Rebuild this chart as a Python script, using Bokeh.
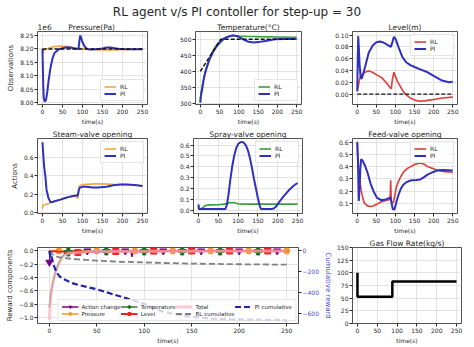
import numpy as np
from bokeh.plotting import figure
from bokeh.layouts import column, row
from bokeh.models import Range1d, LinearAxis, FixedTicker, CustomJSTickFormatter, Div
from bokeh.embed import file_html
from bokeh.resources import INLINE

# ---------------- data ----------------
title_text = "RL agent v/s PI contoller for step-up = 30"
pressure_offset_text = "1e6"
time_ticks = [0, 50, 100, 150, 200, 250]

# Pressure (Pa)
p_set_t = [0, 250]
p_set = [8.2e6, 8.2e6]
p_rl_t = [0, 1, 3, 10, 20, 30, 45, 60, 75, 88, 92, 100, 110, 130, 150, 170, 200, 225, 250]
p_rl = [8.200e6, 8.185e6, 8.195e6, 8.200e6, 8.205e6, 8.209e6, 8.211e6, 8.209e6, 8.205e6, 8.202e6,
        8.203e6, 8.201e6, 8.199e6, 8.197e6, 8.196e6, 8.196e6, 8.197e6, 8.198e6, 8.199e6]
p_pi_t = [0, 1, 2, 3, 5, 7, 9, 12, 15, 20, 25, 30, 40, 50, 60, 70, 80, 88, 90, 92, 94, 97, 100,
          105, 110, 115, 120, 130, 140, 150, 160, 170, 180, 190, 200, 225, 250]
p_pi = [8.200e6, 8.120e6, 8.060e6, 8.020e6, 8.006e6, 8.005e6, 8.012e6, 8.040e6, 8.080e6, 8.130e6,
        8.165e6, 8.185e6, 8.198e6, 8.203e6, 8.206e6, 8.205e6, 8.202e6, 8.200e6, 8.201e6, 8.225e6,
        8.250e6, 8.240e6, 8.225e6, 8.210e6, 8.202e6, 8.199e6, 8.198e6, 8.199e6, 8.200e6, 8.202e6,
        8.205e6, 8.205e6, 8.203e6, 8.201e6, 8.200e6, 8.199e6, 8.199e6]

# Temperature (°C)
T_set_t = [0, 53, 250]
T_set = [400, 500, 500]
T_rl_t = [0, 2, 5, 10, 15, 20, 30, 40, 50, 60, 70, 80, 90, 100, 120, 150, 200, 250]
T_rl = [305, 335, 355, 385, 408, 428, 458, 478, 493, 502, 507, 510, 511, 510, 509, 508, 507, 506]
T_pi_t = [0, 1, 3, 5, 7, 10, 15, 20, 25, 30, 37, 45, 53, 60, 70, 80, 86, 95, 105, 115, 125,
          139, 150, 165, 180, 193, 220, 250]
T_pi = [303, 320, 333, 345, 362, 383, 405, 424, 440, 453, 468, 482, 492, 500, 507, 511, 512, 510,
        504, 497, 492, 490, 491, 494, 497, 500, 501, 501]

# Level (m)
L_set_t = [0, 250]
L_set = [0.0, 0.0]
L_rl_t = [0, 3, 6, 10, 15, 20, 30, 40, 50, 64, 75, 85, 89, 92, 96, 100, 105, 110, 118, 126,
          140, 155, 165, 180, 200, 222, 250]
L_rl = [0.005, 0.015, 0.025, 0.031, 0.035, 0.037, 0.039, 0.037, 0.033, 0.028, 0.020, 0.012, 0.009,
        0.025, 0.037, 0.030, 0.022, 0.016, 0.007, 0.0, -0.007, -0.011, -0.012, -0.011, -0.009,
        -0.0065, -0.005]
L_pi_t = [0, 1, 2.5, 4, 6, 9, 11, 15, 20, 30, 40, 50, 60, 70, 80, 88, 92, 96, 100, 105, 110,
          118, 128, 139, 150, 165, 181, 200, 222, 240, 250]
L_pi = [0.005, 0.050, 0.098, 0.080, 0.050, 0.028, 0.026, 0.033, 0.045, 0.070, 0.082, 0.088, 0.089,
        0.087, 0.083, 0.080, 0.088, 0.097, 0.094, 0.085, 0.076, 0.063, 0.054, 0.049, 0.046, 0.042,
        0.038, 0.031, 0.023, 0.020, 0.021]

# Steam-valve opening
S_rl_t = [0, 1, 5, 10, 20, 30, 50, 70, 85, 87, 89, 91, 95, 100, 110, 130, 150, 175, 195, 210, 230, 250]
S_rl = [0.04, 0.08, 0.085, 0.09, 0.105, 0.12, 0.15, 0.175, 0.19, 0.15, 0.17, 0.28, 0.295, 0.30,
        0.305, 0.31, 0.31, 0.305, 0.302, 0.303, 0.297, 0.288]
S_pi_t = [0, 2, 4, 7, 10, 15, 20, 25, 32, 45, 55, 65, 77, 88, 89, 91, 94, 100, 110, 125, 140,
          160, 177, 195, 210, 230, 250]
S_pi = [0.76, 0.62, 0.50, 0.40, 0.25, 0.155, 0.115, 0.115, 0.125, 0.14, 0.155, 0.167, 0.178, 0.185,
        0.20, 0.25, 0.27, 0.28, 0.28, 0.272, 0.27, 0.28, 0.295, 0.302, 0.303, 0.297, 0.288]

# Spray-valve opening
Sp_rl_t = [0, 2, 5, 10, 15, 20, 30, 50, 65, 75, 80, 85, 90, 95, 100, 110, 150, 200, 250]
Sp_rl = [0.05, 0.01, 0.01, 0.02, 0.035, 0.045, 0.048, 0.05, 0.055, 0.065, 0.07, 0.066, 0.07,
         0.062, 0.058, 0.055, 0.055, 0.055, 0.055]
Sp_pi_t = [0, 1, 3, 10, 30, 50, 68, 72, 76, 80, 85, 90, 95, 100, 105, 110, 115, 120, 125, 130,
           135, 140, 145, 150, 155, 158, 170, 185, 190, 195, 200, 205, 210, 220, 230, 240, 250]
Sp_pi = [0.05, 0.01, 0.01, 0.01, 0.01, 0.01, 0.01, 0.05, 0.15, 0.27, 0.40, 0.50, 0.57, 0.61, 0.625,
         0.63, 0.62, 0.595, 0.55, 0.48, 0.39, 0.29, 0.20, 0.11, 0.035, 0.01, 0.01, 0.01, 0.015,
         0.03, 0.055, 0.08, 0.105, 0.15, 0.19, 0.225, 0.25]

# Feed-valve opening
F_rl_t = [0, 1, 3, 6, 10, 14, 18, 27, 35, 43, 52, 60, 70, 80, 86, 87.5, 89, 92, 95, 98, 102,
          108, 114, 122, 131, 142, 152, 164, 175, 185, 198, 210, 230, 250]
F_rl = [0.60, 0.50, 0.42, 0.30, 0.21, 0.15, 0.105, 0.08, 0.075, 0.082, 0.095, 0.11, 0.12, 0.128,
        0.135, 0.29, 0.12, 0.10, 0.115, 0.16, 0.23, 0.28, 0.32, 0.36, 0.385, 0.405, 0.42, 0.43,
        0.42, 0.40, 0.385, 0.37, 0.36, 0.355]
F_pi_t = [0, 2, 4, 6, 8, 10, 14, 20, 27, 35, 43, 52, 64, 77, 87, 90, 93, 97, 100, 103, 108, 114,
          120, 127, 135, 143, 155, 165, 175, 185, 198, 210, 225, 250]
F_pi = [0.60, 0.42, 0.12, 0.22, 0.38, 0.46, 0.45, 0.41, 0.35, 0.26, 0.196, 0.145, 0.126, 0.135,
        0.15, 0.10, 0.055, 0.05, 0.08, 0.12, 0.17, 0.22, 0.25, 0.27, 0.283, 0.29, 0.292, 0.296,
        0.315, 0.337, 0.355, 0.37, 0.372, 0.368]

# Reward components
act_t = [0, 1, 2, 3, 5, 10, 86, 87, 88, 89, 250]
act_v = [-0.17, -0.05, -0.02, -0.01, -0.005, 0.0, 0.0, -0.09, -0.02, 0.0, 0.0]
act_mk_t = [0, 40, 80, 120, 160, 200, 240]
act_mk_v = [-0.17, 0.0, 0.0, 0.0, 0.0, 0.0, 0.0]
pres_t = [0, 2, 5, 10, 250]
pres_v = [-0.02, -0.01, -0.005, 0.0, 0.0]
pres_mk_t = [10, 50, 90, 130, 170, 210, 250]
pres_mk_v = [0.0, 0.0, 0.0, 0.0, 0.0, 0.0, 0.0]
temp_t = [0, 1, 2, 4, 6, 8, 10, 13, 16, 20, 25, 30, 250]
temp_v = [-0.85, -0.72, -0.60, -0.45, -0.34, -0.25, -0.18, -0.10, -0.05, -0.02, -0.01, -0.005, 0.0]
temp_mk_t = [20, 60, 100, 140, 180, 220]
temp_mk_v = [-0.015, 0.0, 0.0, 0.0, 0.0, 0.0]
lvl_t = [0, 5, 10, 20, 30, 40, 50, 60, 70, 80, 90, 95, 100, 110, 120, 250]
lvl_v = [0.0, -0.005, -0.01, -0.015, -0.022, -0.018, -0.015, -0.01, -0.008, -0.005, -0.002,
         -0.01, -0.005, -0.002, 0.0, 0.0]
lvl_mk_t = [30, 70, 110, 150, 190, 230]
lvl_mk_v = [-0.022, -0.008, -0.002, 0.0, 0.0, 0.0]
tot_t = [0, 1, 2, 4, 6, 8, 10, 13, 16, 20, 25, 30, 40, 250]
tot_v = [-1.04, -0.77, -0.62, -0.46, -0.35, -0.26, -0.19, -0.11, -0.065, -0.035, -0.03, -0.025,
         -0.01, 0.0]
rlcum_t = [0, 2, 5, 10, 20, 30, 50, 75, 100, 125, 150, 175, 200, 225, 250]
rlcum_v = [0, -25, -45, -60, -72, -80, -93, -103, -110, -116, -121, -124, -127, -129, -131]
picum_t = [0, 1, 2, 4, 6, 8, 11, 15, 20, 25, 32, 40, 49, 58, 66, 75, 83, 92, 100, 110, 118, 130,
           142, 155, 173, 190, 210, 230, 250]
picum_v = [0, -60, -45, -120, -170, -210, -245, -268, -290, -310, -327, -345, -364, -388, -411,
           -435, -458, -483, -505, -545, -575, -600, -617, -633, -648, -653, -656, -658, -660]

# Gas flow rate (kg/s)
gas_t = [0, 0, 88, 88, 250]
gas_v = [100, 53, 53, 83, 83]

# ---------------- styling ----------------
FONT = "DejaVu Sans"
TXT = "#262626"
PI_C = "#3030c0"
SET_C = "#111111"


def minus_fmt(dec):
    return CustomJSTickFormatter(code=(
        "var s = Math.abs(tick).toFixed(%d); return (tick < -1e-9 ? '\\u2212' : '') + s;" % dec))


def style_axis(ax):
    ax.axis_line_color = None
    ax.major_tick_line_color = TXT
    ax.major_tick_in = 0
    ax.major_tick_out = 3
    ax.minor_tick_line_color = None
    ax.major_label_text_font = FONT
    ax.major_label_text_font_size = "6px"
    ax.major_label_text_color = TXT
    ax.major_label_standoff = 1
    ax.axis_label_text_font = FONT
    ax.axis_label_text_font_style = "normal"
    ax.axis_label_text_color = TXT
    ax.axis_label_standoff = 2


def make_fig(w, h, l, r, t, b, xr, yr, title, yticks, ydec, ylabel=None):
    p = figure(width=w, height=h, min_border_left=l, min_border_right=r,
               min_border_top=t, min_border_bottom=b,
               x_range=Range1d(*xr), y_range=Range1d(*yr),
               toolbar_location=None, output_backend="svg", title=title)
    p.title.text_font = FONT
    p.title.text_font_size = "7.5px"
    p.title.text_font_style = "normal"
    p.title.text_color = TXT
    p.title.align = "center"
    p.title.standoff = 0
    p.outline_line_color = TXT
    p.outline_line_width = 0.8
    p.background_fill_color = "white"
    p.border_fill_color = "white"
    for ax in p.axis:
        style_axis(ax)
    p.xaxis.ticker = FixedTicker(ticks=time_ticks)
    p.xaxis.axis_label = "time(s)"
    p.xaxis.axis_label_text_font_size = "6px"
    p.xaxis.axis_label_standoff = 1
    p.yaxis.ticker = FixedTicker(ticks=yticks)
    if ydec is not None:
        p.yaxis.formatter = minus_fmt(ydec)
    if ylabel:
        p.yaxis.axis_label = ylabel
        p.yaxis.axis_label_text_font_size = "7px"
    p.grid.grid_line_color = "#dcdcdc"
    p.grid.grid_line_width = 0.8
    return p


def style_legend(p, loc):
    lg = p.legend[0]
    lg.location = loc
    lg.label_text_font = FONT
    lg.label_text_font_size = "6px"
    lg.label_text_color = TXT
    lg.glyph_width = 12
    lg.glyph_height = 7
    lg.label_height = 7
    lg.label_standoff = 4
    lg.spacing = 0
    lg.padding = 3
    lg.margin = 3
    lg.border_line_color = "#cccccc"
    lg.border_line_width = 0.8
    lg.background_fill_alpha = 0.8
    return lg


XR = (-12.5, 262.5)

# ---------------- title ----------------
tf = Div(text=('<div style="width:474px;text-align:center;font-family:\'DejaVu Sans\';'
               'font-size:12px;line-height:14px;color:#262626;padding-top:5px;white-space:nowrap;">'
               + title_text + '</div>'),
         width=474, height=20, margin=0)

# ---------------- row 1 ----------------
# the axis offset text "1e6" sits at the top-left of the frame, the title is centred
p1 = make_fig(158, 107, 37, 11, 8, 20, XR, (7.993e6, 8.265e6),
              pressure_offset_text + "\u00a0" * 7 + "Pressure(Pa)",
              [8.0e6, 8.05e6, 8.1e6, 8.15e6, 8.2e6, 8.25e6], None, "Observations")
p1.title.align = "left"
p1.yaxis.formatter = CustomJSTickFormatter(code="return (tick/1e6).toFixed(2);")
p1.line(p_rl_t, p_rl, color="#f7a540", line_width=1.6, legend_label="RL")
p1.line(p_pi_t, p_pi, color=PI_C, line_width=2, legend_label="PI")
p1.line(p_set_t, p_set, color=SET_C, line_width=1.4, line_dash="4 2")
style_legend(p1, "bottom_right")

p2 = make_fig(158, 107, 37, 15, 8, 20, XR, (297, 524), "Temperature(°C)",
              [300, 350, 400, 450, 500], 0)
p2.line(T_rl_t, T_rl, color="#3d9a3d", line_width=1.6, legend_label="RL")
p2.line(T_pi_t, T_pi, color=PI_C, line_width=2, legend_label="PI")
p2.line(T_set_t, T_set, color=SET_C, line_width=1.4, line_dash="4 2")
style_legend(p2, "bottom_right")

p3 = make_fig(158, 107, 36, 17, 8, 20, XR, (-0.0175, 0.106), "Level(m)",
              [0.0, 0.02, 0.04, 0.06, 0.08, 0.10], 2)
p3.line(L_rl_t, L_rl, color="#e03a3a", line_width=1.6, legend_label="RL")
p3.line(L_pi_t, L_pi, color=PI_C, line_width=2, legend_label="PI")
p3.line(L_set_t, L_set, color=SET_C, line_width=1.4, line_dash="4 2")
style_legend(p3, "top_right")

# ---------------- row 2 ----------------
p4 = make_fig(158, 109, 37, 11, 10, 19, XR, (-0.01, 0.80), "Steam-valve opening",
              [0.0, 0.2, 0.4, 0.6], 1, "Actions")
p4.line(S_rl_t, S_rl, color="#f7a540", line_width=1.6, legend_label="RL")
p4.line(S_pi_t, S_pi, color=PI_C, line_width=2, legend_label="PI")
style_legend(p4, "top_right")

p5 = make_fig(158, 109, 35, 14, 10, 19, XR, (-0.0315, 0.6615), "Spray-valve opening",
              [0.0, 0.1, 0.2, 0.3, 0.4, 0.5, 0.6], 1)
p5.line(Sp_rl_t, Sp_rl, color="#3d9a3d", line_width=1.6, legend_label="RL")
p5.line(Sp_pi_t, Sp_pi, color=PI_C, line_width=2, legend_label="PI")
style_legend(p5, "top_right")

p6 = make_fig(158, 109, 36, 17, 10, 19, XR, (0.018, 0.63), "Feed-valve opening",
              [0.1, 0.2, 0.3, 0.4, 0.5, 0.6], 1)
p6.line(F_rl_t, F_rl, color="#e03a3a", line_width=1.6, legend_label="RL")
p6.line(F_pi_t, F_pi, color=PI_C, line_width=2, legend_label="PI")
style_legend(p6, "top_right")

# ---------------- row 3 ----------------
p7 = make_fig(334, 111, 37, 30, 10, 24, XR, (-1.092, 0.052), "",
              [0.0, -0.2, -0.4, -0.6, -0.8, -1.0], 1, "Reward components")
p7.extra_y_ranges = {"cum": Range1d(-693, 33)}
rax = LinearAxis(y_range_name="cum", ticker=FixedTicker(ticks=[0, -200, -400, -600]),
                 formatter=minus_fmt(0), axis_label="Cumulative reward")
style_axis(rax)
rax.axis_label_text_font_size = "7px"
rax.axis_label_text_color = "#4848c8"
rax.major_label_text_color = "#4848c8"
p7.add_layout(rax, "right")

p7.line(act_t, act_v, color="#800080", line_width=1.5, legend_label="Action change")
p7.scatter(act_mk_t, act_mk_v, marker="inverted_triangle", size=7, color="#800080",
           legend_label="Action change")
p7.line(pres_t, pres_v, color="#f7941d", line_width=1.5, legend_label="Pressure")
p7.scatter(pres_mk_t, pres_mk_v, marker="circle", size=6, color="#f7941d", legend_label="Pressure")
p7.line(temp_t, temp_v, color="#2e7d32", line_width=1.5, legend_label="Temperature")
p7.scatter(temp_mk_t, temp_mk_v, marker="plus", size=8, color="#1b6e1b", legend_label="Temperature")
p7.line(lvl_t, lvl_v, color="#ee2222", line_width=1.8, legend_label="Level")
p7.scatter(lvl_mk_t, lvl_mk_v, marker="square", size=6, color="#ee2222", legend_label="Level")
p7.line(tot_t, tot_v, color="#ffb0c0", line_width=3, alpha=0.7, legend_label="Total")
p7.line(rlcum_t, rlcum_v, color="#808080", line_width=1.8, line_dash="6 3", y_range_name="cum",
        legend_label="RL cumulative")
p7.line(picum_t, picum_v, color="#2020a8", line_width=2.2, line_dash="6 3", y_range_name="cum",
        legend_label="PI cumulative")
lg = style_legend(p7, "bottom_right")
lg.orientation = "vertical"
lg.nrows = 2
lg.glyph_width = 17
lg.label_text_font_size = "5.5px"
lg.label_height = 7
lg.glyph_height = 7
lg.label_standoff = 3
lg.margin = 2

p8 = make_fig(140, 111, 17, 13, 10, 24, XR, (0, 150), "Gas Flow Rate(kg/s)",
              [0, 25, 50, 75, 100, 125, 150], 0)
p8.line(gas_t, gas_v, color="black", line_width=2.5)

layout = column(tf, row(p1, p2, p3), row(p4, p5, p6), row(p7, p8))

with open("out.html", "w", encoding="utf-8") as f:
    f.write(file_html(layout, INLINE))
